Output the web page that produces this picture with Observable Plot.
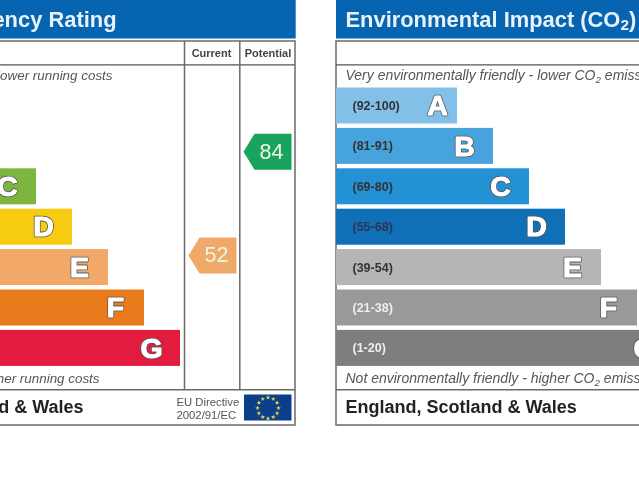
<!DOCTYPE html>
<html><head><meta charset="utf-8">
<script src="https://cdn.jsdelivr.net/npm/d3@7"></script>
<script src="https://cdn.jsdelivr.net/npm/@observablehq/plot@0.6"></script>
<style>
html,body{margin:0;padding:0;background:#fff;overflow:hidden}
#c{width:639px;height:480px;filter:blur(.45px)}
svg{display:block}
</style></head><body><div id="c"></div>
<script>
// ---- data ----
const bands = ["A","B","C","D","E","F","G"];
const ranges = ["(92-100)","(81-91)","(69-80)","(55-68)","(39-54)","(21-38)","(1-20)"];
const barLengths = [121,157,193,229,265,301,337];
const energyColors = ["#0f8f4f","#1fa35e","#7db63f","#f6cb12","#f1a868","#ea7b1c","#e21b3f"];
const co2Colors = ["#83c0e8","#47a3dc","#2491d4","#0f70b8","#b5b5b5","#999999","#7e7e7e"];
const rangeInks = ["#333","#333","#333","#335","#333","#eee","#eee"];
const currentScore = 52;
const potentialScore = 84;
const currentColor = "#efaa6a";
const potentialColor = "#19a35c";
const scoreRows = {52: 3.7, 84: 1.13};

// ---- layout ----
const panels = [
  {origin:-157, right:295, title:"Energy Efficiency Rating", colors:energyColors,
   top:"Very energy efficient - lower running costs", bottom:"Not energy efficient - higher running costs",
   foot:"England, Scotland & Wales"},
  {origin:336, right:800, title:"Environmental Impact (CO₂) Rating", colors:co2Colors,
   top:"Very environmentally friendly - lower CO₂ emissions", bottom:"Not environmentally friendly - higher CO₂ emissions",
   foot:"England, Scotland & Wales"}
];
const rowY = i => 105.5 + 40.4*i;
const barH = 36;
const bars = panels.flatMap(p => bands.map((b,i)=>({
  band:b, range:ranges[i], x1:p.origin, x2:p.origin+barLengths[i],
  y1:rowY(i)-barH/2, y2:rowY(i)+barH/2, y:rowY(i), color:p.colors[i], ink:rangeInks[i],
  lx:p.origin+barLengths[i]-(i===0?20:29), rx:p.origin+16
})));
const arrow = (score,x,color)=>{
  const y=rowY(scoreRows[score]), w=48,h=18,t=11;
  return {score,color,tx:x+w-20,y,
    pts:[[x,y],[x+t,y-h],[x+w,y-h],[x+w,y+h],[x+t,y+h],[x,y]].map(([px,py])=>({px,py}))};
};
const arrows=[arrow(currentScore,188,currentColor),arrow(potentialScore,243,potentialColor)];
const stars=d3.range(12).map(i=>({x:267.5+10.5*Math.cos(i*Math.PI/6),y:407.5+10.5*Math.sin(i*Math.PI/6)}));
const font="'Liberation Sans',Arial,sans-serif";
const line="#6a6a6a";

const chart=Plot.plot({
  width:639,height:480,margin:0,style:{fontFamily:font,background:"#fff"},
  x:{domain:[0,639],range:[0,639],axis:null},
  y:{domain:[0,480],range:[0,480],axis:null},
  marks:[
    // panel frames
    Plot.rect(panels,{x1:"origin",x2:"right",y1:41,y2:425,fill:"#fff",stroke:line,strokeWidth:1.5}),
    Plot.rect(panels,{x1:"origin",x2:d=>d.right+.7,y1:0,y2:38.5,fill:"#0664b1"}),
    Plot.ruleY(panels,{x1:"origin",x2:"right",y:64.3,stroke:"#555",strokeWidth:1.2}),
    Plot.ruleY(panels,{x1:"origin",x2:"right",y:389.3,stroke:line,strokeWidth:1.5}),
    Plot.ruleX([184,239.3],{x:d=>d,y1:41,y2:389.3,stroke:line,strokeWidth:1.5}),
    // bars
    Plot.rect(bars,{x1:"x1",x2:"x2",y1:"y1",y2:"y2",fill:"color"}),
    Plot.text(bars,{x:"rx",y:"y",text:"range",fill:"ink",textAnchor:"start",fontSize:12.5,fontWeight:"bold"}),
    Plot.text(bars,{x:"lx",y:"y",text:"band",fill:"#fff",stroke:"#555",strokeWidth:2.6,fontSize:28.5,fontWeight:"bold"}),
    Plot.text(bars,{x:"lx",y:"y",text:"band",fill:"#fff",stroke:"#fff",strokeWidth:1,fontSize:28.5,fontWeight:"bold"}),
    // titles
    Plot.text(panels.slice(0,1),{x:116,y:19,text:"title",fill:"#e8f2fa",textAnchor:"end",fontSize:21.9,fontWeight:"bold"}),
    Plot.text(panels.slice(1),{x:345,y:19,text:"title",fill:"#e8f2fa",textAnchor:"start",fontSize:21.9,fontWeight:"bold"}),
    Plot.text(["Current"],{x:211,y:53,text:d=>d,fill:"#444",fontSize:11,fontWeight:"bold"}),
    Plot.text(["Potential"],{x:267.5,y:53,text:d=>d,fill:"#444",fontSize:11,fontWeight:"bold"}),
    // captions
    Plot.text(panels.slice(0,1),{x:112,y:75.5,text:"top",fill:"#555",textAnchor:"end",fontSize:13.4,fontStyle:"italic"}),
    Plot.text(panels.slice(0,1),{x:99,y:378.5,text:"bottom",fill:"#555",textAnchor:"end",fontSize:13.4,fontStyle:"italic"}),
    Plot.text(panels.slice(1),{x:345,y:75.5,text:"top",fill:"#555",textAnchor:"start",fontSize:14,fontStyle:"italic"}),
    Plot.text(panels.slice(1),{x:345,y:378.5,text:"bottom",fill:"#555",textAnchor:"start",fontSize:14,fontStyle:"italic"}),
    Plot.text(panels.slice(0,1),{x:83,y:407,text:"foot",fill:"#222",textAnchor:"end",fontSize:18,fontWeight:"bold"}),
    Plot.text(panels.slice(1),{x:345,y:407,text:"foot",fill:"#222",textAnchor:"start",fontSize:18,fontWeight:"bold"}),
    // score arrows
    ...arrows.map(a=>Plot.line(a.pts,{x:"px",y:"py",fill:a.color,stroke:"none"})),
    Plot.text(arrows,{x:"tx",y:"y",text:"score",fill:"#eef5e6",fontSize:21.5}),
    // EU block
    Plot.text(["EU Directive"],{x:176,y:401.5,text:d=>d,fill:"#555",textAnchor:"start",fontSize:11.3}),
    Plot.text(["2002/91/EC"],{x:176,y:414.5,text:d=>d,fill:"#555",textAnchor:"start",fontSize:11.3}),
    Plot.rect([0],{x1:244,x2:291.5,y1:394.5,y2:420.5,fill:"#0c3f8a"}),
    Plot.dot(stars,{x:"x",y:"y",symbol:"star",r:1.5,fill:"#e8d84a"})
  ]
});
// real subscript for the "2" of CO2
chart.querySelectorAll("text").forEach(t=>{
  const holder=[...t.querySelectorAll("tspan")].find(s=>s.textContent.includes("₂"))||(t.textContent.includes("₂")?t:null);
  if(!holder) return;
  const [a,b]=holder.textContent.split("₂");
  holder.textContent=a;
  const ns="http://www.w3.org/2000/svg";
  const sub=document.createElementNS(ns,"tspan");
  sub.textContent="2"; sub.setAttribute("dy","0.22em"); sub.setAttribute("font-size","70%");
  const rest=document.createElementNS(ns,"tspan");
  rest.textContent=b; rest.setAttribute("dy","-0.154em");
  const host=holder.tagName==="tspan"?holder.parentNode:holder;
  host.append(sub,rest);
});
document.getElementById("c").append(chart);
</script></body></html>
